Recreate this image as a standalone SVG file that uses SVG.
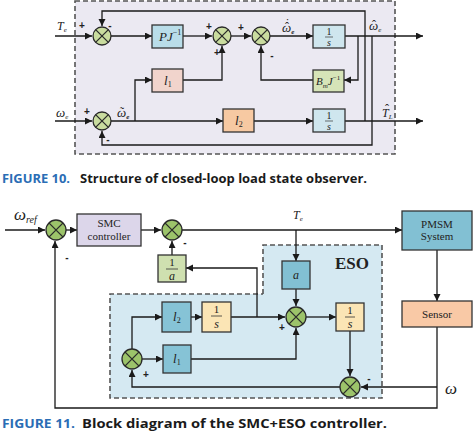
<svg xmlns="http://www.w3.org/2000/svg" width="474" height="441" viewBox="0 0 474 441">
<style>
.ln{fill:none;stroke:#1a1a1a;stroke-width:1.3}
.blk{stroke:#333;stroke-width:1.3}
.sum{stroke:#2a2a2a;stroke-width:1.3}
.x{stroke:#2a2a2a;stroke-width:1.3}
.dash{fill:none;stroke:#555;stroke-width:1.6;stroke-dasharray:5,3}
.m{font-family:"Liberation Serif","DejaVu Serif",serif;font-style:italic;fill:#222}
.t{font-family:"Liberation Serif","DejaVu Serif",serif;fill:#222}
.acc{font-style:normal;font-weight:normal}
.s{font-family:"Liberation Sans","DejaVu Sans",sans-serif;fill:#222;font-size:10px;font-weight:bold}
.cap{font-family:"Open Sans","Liberation Sans",sans-serif;font-weight:bold;font-size:13px}
</style>
<defs>
<marker id="ar" markerWidth="8" markerHeight="8" refX="7" refY="3.5" orient="auto" markerUnits="userSpaceOnUse">
<path d="M0,0 L7,3.5 L0,7 Z" fill="#1a1a1a"/>
</marker>
</defs>
<rect width="474" height="441" fill="#fff"/>

<!-- ============ FIGURE 10 ============ -->
<rect x="75" y="1" width="320" height="153" fill="#ebe9f2"/>
<rect x="75" y="1" width="320" height="153" class="dash"/>

<g id="f10-connectors">
<path class="ln" d="M55,36 H92" marker-end="url(#ar)"/>
<path class="ln" d="M111,36 H152" marker-end="url(#ar)"/>
<path class="ln" d="M183,36 H212" marker-end="url(#ar)"/>
<path class="ln" d="M231,36 H251" marker-end="url(#ar)"/>
<path class="ln" d="M270,36 H313" marker-end="url(#ar)"/>
<path class="ln" d="M345,36 H423" marker-end="url(#ar)"/>
<path class="ln" d="M358,36 V80 H344" marker-end="url(#ar)"/>
<path class="ln" d="M313,80 H261 V46" marker-end="url(#ar)"/>
<path class="ln" d="M365,121 V11 H102 V26" marker-end="url(#ar)"/>
<path class="ln" d="M372,36 V145 H102 V131" marker-end="url(#ar)"/>
<path class="ln" d="M183,80 H222 V46" marker-end="url(#ar)"/>
<path class="ln" d="M55,121 H92" marker-end="url(#ar)"/>
<path class="ln" d="M111,121 H223" marker-end="url(#ar)"/>
<path class="ln" d="M135,121 V80 H152" marker-end="url(#ar)"/>
<path class="ln" d="M254,121 H313" marker-end="url(#ar)"/>
<path class="ln" d="M345,121 H423" marker-end="url(#ar)"/>
</g>

<g id="f10-sum1"><circle cx="102" cy="36" r="9" fill="#c9dc9f" class="sum"/><path class="x" d="M95.6,29.6 L108.4,42.4 M108.4,29.6 L95.6,42.4"/></g>
<g id="f10-sum2"><circle cx="222" cy="36" r="9" fill="#c9dc9f" class="sum"/><path class="x" d="M215.6,29.6 L228.4,42.4 M228.4,29.6 L215.6,42.4"/></g>
<g id="f10-sum3"><circle cx="261" cy="36" r="9" fill="#c9dc9f" class="sum"/><path class="x" d="M254.6,29.6 L267.4,42.4 M267.4,29.6 L254.6,42.4"/></g>
<g id="f10-sum4"><circle cx="102" cy="121" r="9" fill="#c9dc9f" class="sum"/><path class="x" d="M95.6,114.6 L108.4,127.4 M108.4,114.6 L95.6,127.4"/></g>

<g id="f10-pj"><rect x="152" y="25" width="31" height="23" fill="#b9dde9" class="blk"/><text x="159" y="41" class="m" font-size="13">PJ<tspan font-size="8" font-style="normal" dy="-6">−1</tspan></text></g>
<g id="f10-int1"><rect x="313" y="25" width="32" height="23" fill="#cfe6ee" class="blk"/><text x="329" y="34.5" class="t" font-size="10" text-anchor="middle">1</text><line x1="325" y1="37" x2="333" y2="37" stroke="#333" stroke-width="0.7"/><text x="329" y="45.5" class="m" font-size="10" text-anchor="middle">s</text></g>
<g id="f10-bm"><rect x="313" y="70" width="31" height="22" fill="#d6e4b8" class="blk"/><text x="316" y="85" class="m" font-size="11">B<tspan font-size="7" dy="3">m</tspan><tspan dy="-3">J</tspan><tspan font-size="7" font-style="normal" dy="-5">−1</tspan></text></g>
<g id="f10-l1"><rect x="152" y="69" width="31" height="23" fill="#f1d4cc" class="blk"/><text x="164" y="85" class="m" font-size="13">l<tspan font-size="8" font-style="normal" dy="2">1</tspan></text></g>
<g id="f10-l2"><rect x="223" y="109" width="31" height="23" fill="#f7c9a2" class="blk"/><text x="235" y="125" class="m" font-size="13">l<tspan font-size="8" font-style="normal" dy="2">2</tspan></text></g>
<g id="f10-int2"><rect x="313" y="109" width="32" height="23" fill="#cfe6ee" class="blk"/><text x="329" y="118.5" class="t" font-size="10" text-anchor="middle">1</text><line x1="325" y1="121" x2="333" y2="121" stroke="#333" stroke-width="0.7"/><text x="329" y="129.5" class="m" font-size="10" text-anchor="middle">s</text></g>

<g id="f10-labels">
<text x="57" y="30" class="m" font-size="12">T<tspan font-size="7" dy="2">e</tspan></text>
<text x="56" y="117" class="m" font-size="13">ω<tspan font-size="7" dy="2">e</tspan></text>
<text x="117" y="117" class="m" font-size="13">ω<tspan font-size="7" font-weight="bold" dy="2">e</tspan><tspan class="acc" font-size="12" x="120" y="116">˜</tspan></text>
<text x="282" y="32" class="m" font-size="13">ω<tspan font-size="7" font-weight="bold" dy="2">e</tspan><tspan class="acc" font-size="12" x="285" y="31">ˆ</tspan><tspan class="acc" font-size="12" x="285.5" y="27">˙</tspan></text>
<text x="369" y="30" class="m" font-size="13">ω<tspan font-size="7" dy="2">e</tspan><tspan class="acc" font-size="12" x="372" y="29">ˆ</tspan></text>
<text x="382" y="117" class="m" font-size="12">T<tspan font-size="7" dy="2">L</tspan><tspan class="acc" font-size="12" x="385" y="113">ˆ</tspan></text>
<text x="82" y="29" class="s" text-anchor="middle">+</text>
<text x="110" y="29" class="s" text-anchor="middle">-</text>
<text x="209" y="30" class="s" text-anchor="middle">+</text>
<text x="217" y="56" class="s" text-anchor="middle">+</text>
<text x="241" y="31" class="s" text-anchor="middle">+</text>
<text x="272" y="59" class="s" text-anchor="middle">-</text>
<text x="87" y="115" class="s" text-anchor="middle">+</text>
<text x="108" y="143" class="s" text-anchor="middle">-</text>
</g>

<text x="2" y="183" class="cap" fill="#2a6db5" textLength="68" lengthAdjust="spacingAndGlyphs">FIGURE 10.</text>
<text x="80" y="183" class="cap" fill="#1a1a1a" textLength="287" lengthAdjust="spacingAndGlyphs">Structure of closed-loop load state observer.</text>

<!-- ============ FIGURE 11 ============ -->
<path d="M263,245 H382 V398 H110 V294 H263 Z" fill="#d5e9f2"/>
<path d="M263,294 V245 H382 V398 H110 V294 H263" class="dash"/>

<g id="f11-connectors">
<path class="ln" d="M5,230 H45" marker-end="url(#ar)"/>
<path class="ln" d="M66,230 H77" marker-end="url(#ar)"/>
<path class="ln" d="M141,230 H161" marker-end="url(#ar)"/>
<path class="ln" d="M182,230 H402" marker-end="url(#ar)"/>
<path class="ln" d="M296,230 V261" marker-end="url(#ar)"/>
<path class="ln" d="M437,250 V301" marker-end="url(#ar)"/>
<path class="ln" d="M437,327 V408 H55 V241" marker-end="url(#ar)"/>
<path class="ln" d="M437,387 H361" marker-end="url(#ar)"/>
<path class="ln" d="M172,255 V241" marker-end="url(#ar)"/>
<path class="ln" d="M257,317 V268 H186" marker-end="url(#ar)"/>
<path class="ln" d="M191,317 H202" marker-end="url(#ar)"/>
<path class="ln" d="M231,317 H285" marker-end="url(#ar)"/>
<path class="ln" d="M296,289 V306" marker-end="url(#ar)"/>
<path class="ln" d="M306,317 H336" marker-end="url(#ar)"/>
<path class="ln" d="M191,359 H296 V328" marker-end="url(#ar)"/>
<path class="ln" d="M350,331 V376" marker-end="url(#ar)"/>
<path class="ln" d="M340,387 H132 V370" marker-end="url(#ar)"/>
<path class="ln" d="M142,359 H163" marker-end="url(#ar)"/>
<path class="ln" d="M132,349 V317 H162" marker-end="url(#ar)"/>
</g>

<g id="f11-sumA"><circle cx="56" cy="230" r="10" fill="#9cc36a" class="sum"/><path class="x" d="M48.9,222.9 L63.1,237.1 M63.1,222.9 L48.9,237.1"/></g>
<g id="f11-sumB"><circle cx="172" cy="230" r="10" fill="#9cc36a" class="sum"/><path class="x" d="M164.9,222.9 L179.1,237.1 M179.1,222.9 L164.9,237.1"/></g>
<g id="f11-sumC"><circle cx="296" cy="317" r="10" fill="#9cc36a" class="sum"/><path class="x" d="M288.9,309.9 L303.1,324.1 M303.1,309.9 L288.9,324.1"/></g>
<g id="f11-sumD"><circle cx="132" cy="359" r="10" fill="#9cc36a" class="sum"/><path class="x" d="M124.9,351.9 L139.1,366.1 M139.1,351.9 L124.9,366.1"/></g>
<g id="f11-sumE"><circle cx="350" cy="387" r="10" fill="#9cc36a" class="sum"/><path class="x" d="M342.9,379.9 L357.1,394.1 M357.1,379.9 L342.9,394.1"/></g>

<g id="f11-smc"><rect x="77" y="214" width="64" height="32" fill="#dcd6ea" class="blk"/><text x="109" y="227" class="t" font-size="11" text-anchor="middle">SMC</text><text x="109" y="240" class="t" font-size="11" text-anchor="middle">controller</text></g>
<g id="f11-pmsm"><rect x="402" y="211" width="70" height="39" fill="#82c0d3" class="blk"/><text x="437" y="228" class="t" font-size="11" text-anchor="middle">PMSM</text><text x="437" y="240" class="t" font-size="11" text-anchor="middle">System</text></g>
<g id="f11-sensor"><rect x="402" y="301" width="70" height="26" fill="#f9c9a6" class="blk"/><text x="437" y="318" class="t" font-size="11" text-anchor="middle">Sensor</text></g>
<g id="f11-a"><rect x="282" y="261" width="28" height="28" fill="#82c0d3" class="blk"/><text x="296" y="279" class="m" font-size="12" text-anchor="middle">a</text></g>
<g id="f11-inva"><rect x="158" y="255" width="28" height="27" fill="#cfe0b0" class="blk"/><text x="172" y="266" class="t" font-size="11" text-anchor="middle">1</text><line x1="166" y1="269" x2="178" y2="269" stroke="#333" stroke-width="0.8"/><text x="172" y="280" class="m" font-size="12" text-anchor="middle">a</text></g>
<g id="f11-l2"><rect x="162" y="302" width="29" height="30" fill="#86c3d6" class="blk"/><text x="173" y="321" class="m" font-size="13">l<tspan font-size="8" font-style="normal" dy="2">2</tspan></text></g>
<g id="f11-int1"><rect x="202" y="302" width="29" height="30" fill="#fbe5b5" class="blk"/><text x="216.5" y="313" class="t" font-size="11" text-anchor="middle">1</text><line x1="211" y1="316" x2="222" y2="316" stroke="#333" stroke-width="0.8"/><text x="216.5" y="328" class="m" font-size="12" text-anchor="middle">s</text></g>
<g id="f11-l1"><rect x="163" y="345" width="28" height="28" fill="#86c3d6" class="blk"/><text x="173" y="363" class="m" font-size="13">l<tspan font-size="8" font-style="normal" dy="2">1</tspan></text></g>
<g id="f11-int2"><rect x="336" y="303" width="28" height="28" fill="#fbe5b5" class="blk"/><text x="350" y="314" class="t" font-size="11" text-anchor="middle">1</text><line x1="345" y1="317" x2="355" y2="317" stroke="#333" stroke-width="0.8"/><text x="350" y="328" class="m" font-size="12" text-anchor="middle">s</text></g>

<g id="f11-labels">
<text x="14" y="220" class="m" font-size="17">ω<tspan font-size="10" dy="3">ref</tspan></text>
<text x="293" y="219" class="m" font-size="12">T<tspan font-size="7" dy="2">e</tspan></text>
<text x="445" y="394" class="m" font-size="17">ω</text>
<text x="352" y="269" class="t" font-size="17" font-weight="bold" text-anchor="middle">ESO</text>
<text x="67" y="261" class="s" text-anchor="middle">-</text>
<text x="185" y="246" class="s" text-anchor="middle">-</text>
<text x="282" y="331" class="s" text-anchor="middle">+</text>
<text x="146" y="378" class="s" text-anchor="middle">+</text>
<text x="369" y="382" class="s" text-anchor="middle">-</text>
</g>

<text x="2" y="428" class="cap" fill="#2a6db5" textLength="73" lengthAdjust="spacingAndGlyphs">FIGURE 11.</text>
<text x="82" y="428" class="cap" fill="#1a1a1a" textLength="305" lengthAdjust="spacingAndGlyphs">Block diagram of the SMC+ESO controller.</text>
</svg>
